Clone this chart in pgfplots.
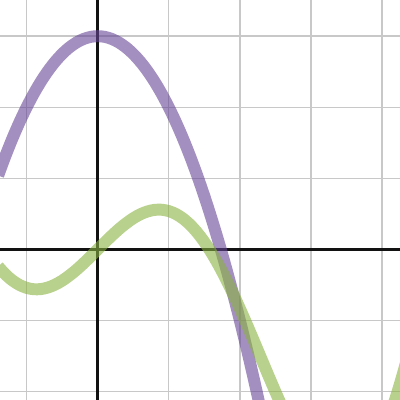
\documentclass[border=0pt]{standalone}
\usepackage{pgfplots}
\pgfplotsset{compat=1.18}
\definecolor{cpurple}{RGB}{102,68,150}
\definecolor{cgreen}{RGB}{137,178,63}
\definecolor{cgrid}{RGB}{200,200,200}

\begin{document}
\begin{tikzpicture}
\begin{axis}[
    name=ax,
    width=10cm, height=10cm,
    scale only axis,
    xmin=-1.374, xmax=4.252,
    ymin=-2.117, ymax=3.509,
    xtick={-1,0,1,2,3,4},
    ytick={-2,-1,0,1,2,3},
    xticklabels={}, yticklabels={},
    major tick length=0pt,
    grid=major,
    major grid style={line width=1pt,draw=cgrid},
    axis line style={draw=none},
    clip=true,
]
% axes
\addplot[black!93,line width=2.1pt] coordinates {(-2,0) (5,0)};
\addplot[black!93,line width=2.1pt] coordinates {(0,-3) (0,4)};
% purple curve
\addplot[cpurple,draw opacity=0.6,line width=8.5pt,smooth] coordinates {
(-1.4,1.04) (-1.3,1.31) (-1.2,1.56) (-1.1,1.79) (-1.0,2.00) (-0.9,2.19)
(-0.8,2.36) (-0.7,2.51) (-0.6,2.64) (-0.5,2.75) (-0.4,2.84) (-0.3,2.91)
(-0.2,2.96) (-0.1,2.99) (0,3) (0.1,2.99) (0.2,2.96) (0.3,2.91) (0.4,2.84)
(0.5,2.75) (0.6,2.64) (0.7,2.51) (0.8,2.36) (0.9,2.19) (1.0,2.00)
(1.1,1.79) (1.2,1.56) (1.3,1.31) (1.4,1.04) (1.5,0.75) (1.6,0.44)
(1.7,0.11) (1.8,-0.24) (1.9,-0.61) (2.0,-1.00) (2.1,-1.41) (2.2,-1.84)
(2.3,-2.29) (2.4,-2.76)
};
% green curve
\addplot[cgreen,draw opacity=0.6,line width=8.5pt,smooth] coordinates {
(-1.4,-0.238) (-1.3,-0.348) (-1.2,-0.435) (-1.1,-0.499) (-1.0,-0.540)
(-0.9,-0.559) (-0.8,-0.557) (-0.7,-0.535) (-0.6,-0.495) (-0.5,-0.439)
(-0.4,-0.368) (-0.3,-0.287) (-0.2,-0.196) (-0.1,-0.0995) (0,0)
(0.1,0.0995) (0.2,0.196) (0.3,0.287) (0.4,0.368) (0.5,0.439) (0.6,0.495)
(0.7,0.535) (0.8,0.557) (0.9,0.559) (1.0,0.540) (1.1,0.499) (1.2,0.435)
(1.3,0.348) (1.4,0.238) (1.5,0.106) (1.6,-0.047) (1.7,-0.219)
(1.8,-0.409) (1.9,-0.614) (2.0,-0.832) (2.1,-1.060) (2.2,-1.295)
(2.3,-1.532) (2.4,-1.770) (2.5,-2.003) (2.6,-2.228) (2.7,-2.441)
(2.8,-2.638) (2.9,-2.816) (3.0,-2.970) (3.1,-3.097) (3.2,-3.195)
(3.3,-3.259) (3.4,-3.287) (3.5,-3.278) (3.6,-3.228) (3.7,-3.138)
(3.8,-3.006) (3.9,-2.831) (4.0,-2.615) (4.1,-2.357) (4.2,-2.059)
(4.3,-1.723) (4.4,-1.352)
};
\end{axis}
\pgfresetboundingbox
\useasboundingbox (ax.south west) rectangle (ax.north east);
\end{tikzpicture}
\end{document}
